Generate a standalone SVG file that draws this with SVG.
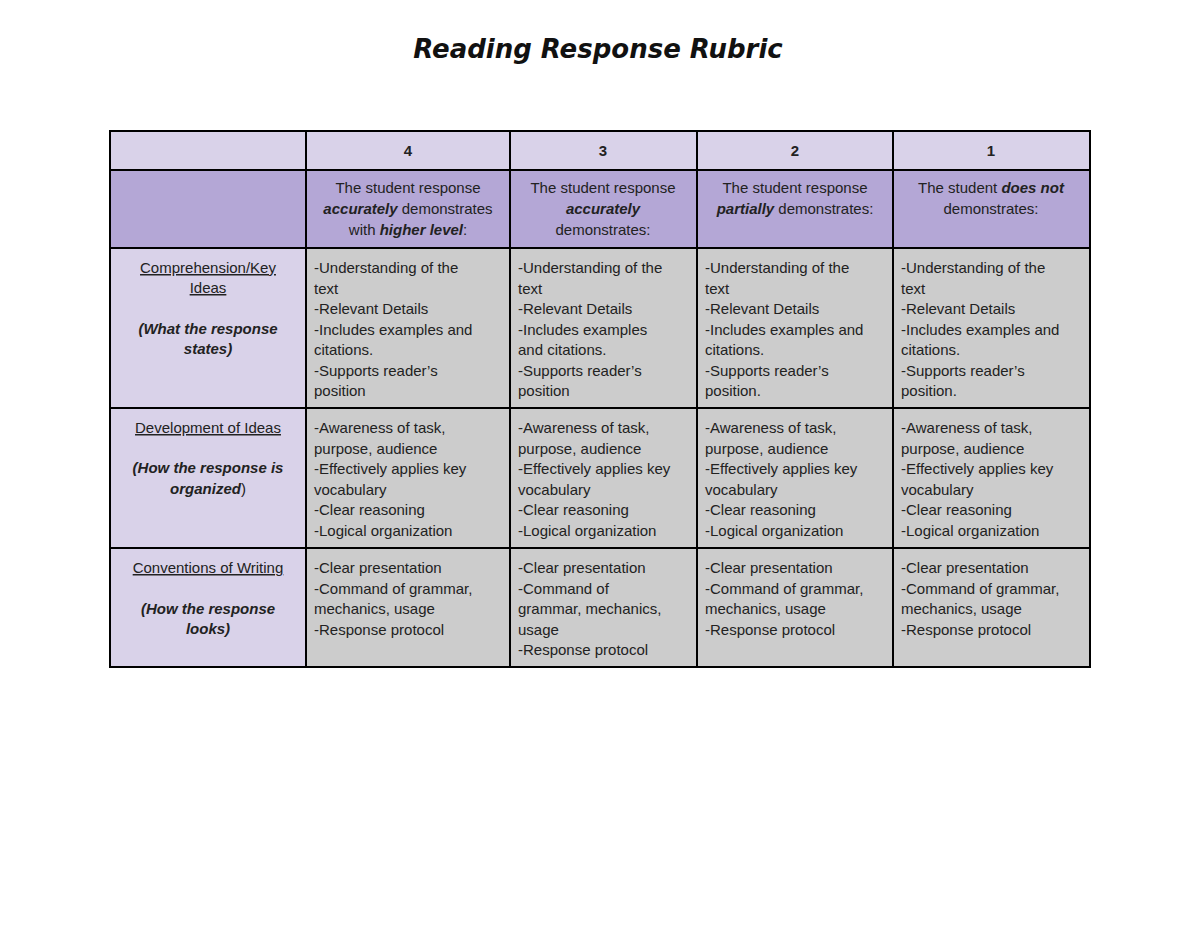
<svg xmlns="http://www.w3.org/2000/svg" width="1200" height="927" viewBox="0 0 1200 927">
<style>
text{font-family:"Liberation Sans",Arial,sans-serif;font-size:15px;fill:#222}
.c{text-anchor:middle}
.b{font-weight:bold}
.bi{font-weight:bold;font-style:italic}
.u{text-decoration:underline}
.g{fill:#cccccc;stroke:#000;stroke-width:2}
.l{fill:#d9d2e9;stroke:#000;stroke-width:2}
.d{fill:#b4a7d6;stroke:#000;stroke-width:2}
</style>
<rect width="1200" height="927" fill="#fff"/>
<text x="598" y="58" class="c" style="font-family:'DejaVu Sans',sans-serif;font-size:26px;font-style:italic;font-weight:bold;fill:#111">Reading Response Rubric</text>
<g id="table">
<rect class="l" x="110" y="131" width="196" height="39"/><rect class="l" x="306" y="131" width="204" height="39"/><rect class="l" x="510" y="131" width="187" height="39"/><rect class="l" x="697" y="131" width="196" height="39"/><rect class="l" x="893" y="131" width="197" height="39"/>
<rect class="d" x="110" y="170" width="196" height="78"/><rect class="d" x="306" y="170" width="204" height="78"/><rect class="d" x="510" y="170" width="187" height="78"/><rect class="d" x="697" y="170" width="196" height="78"/><rect class="d" x="893" y="170" width="197" height="78"/>
<rect class="l" x="110" y="248" width="196" height="160"/><rect class="g" x="306" y="248" width="204" height="160"/><rect class="g" x="510" y="248" width="187" height="160"/><rect class="g" x="697" y="248" width="196" height="160"/><rect class="g" x="893" y="248" width="197" height="160"/>
<rect class="l" x="110" y="408" width="196" height="140"/><rect class="g" x="306" y="408" width="204" height="140"/><rect class="g" x="510" y="408" width="187" height="140"/><rect class="g" x="697" y="408" width="196" height="140"/><rect class="g" x="893" y="408" width="197" height="140"/>
<rect class="l" x="110" y="548" width="196" height="119"/><rect class="g" x="306" y="548" width="204" height="119"/><rect class="g" x="510" y="548" width="187" height="119"/><rect class="g" x="697" y="548" width="196" height="119"/><rect class="g" x="893" y="548" width="197" height="119"/>
</g>
<g id="header">
<text class="c b" x="408" y="156">4</text><text class="c b" x="603" y="156">3</text><text class="c b" x="795" y="156">2</text><text class="c b" x="991" y="156">1</text>
<text class="c" x="408" y="193">The student response</text>
<text class="c" x="408" y="214"><tspan class="bi">accurately</tspan> demonstrates</text>
<text class="c" x="408" y="235">with <tspan class="bi">higher level</tspan>:</text>
<text class="c" x="603" y="193">The student response</text>
<text class="c bi" x="603" y="214">accurately</text>
<text class="c" x="603" y="235">demonstrates:</text>
<text class="c" x="795" y="193">The student response</text>
<text class="c" x="795" y="214"><tspan class="bi">partially</tspan> demonstrates:</text>
<text class="c" x="991" y="193">The student <tspan class="bi">does not</tspan></text>
<text class="c" x="991" y="214">demonstrates:</text>
</g>
<g id="rowlabels">
<text class="c u" x="208" y="273">Comprehension/Key</text>
<text class="c u" x="208" y="293">Ideas</text>
<text class="c bi" x="208" y="334">(What the response</text>
<text class="c bi" x="208" y="354">states)</text>
<text class="c u" x="208" y="433">Development of  Ideas</text>
<text class="c bi" x="208" y="473">(How the response is</text>
<text class="c" x="208" y="494"><tspan class="bi">organized</tspan>)</text>
<text class="c u" x="208" y="573">Conventions of  Writing</text>
<text class="c bi" x="208" y="614">(How the response</text>
<text class="c bi" x="208" y="634">looks)</text>
</g>
<g id="row1">
<text x="314" y="273">-Understanding of the<tspan x="314" dy="20.5">text</tspan><tspan x="314" dy="20.5">-Relevant Details</tspan><tspan x="314" dy="20.5">-Includes examples and</tspan><tspan x="314" dy="20.5">citations.</tspan><tspan x="314" dy="20.5">-Supports reader’s</tspan><tspan x="314" dy="20.5">position</tspan></text>
<text x="518" y="273">-Understanding of the<tspan x="518" dy="20.5">text</tspan><tspan x="518" dy="20.5">-Relevant Details</tspan><tspan x="518" dy="20.5">-Includes examples</tspan><tspan x="518" dy="20.5">and citations.</tspan><tspan x="518" dy="20.5">-Supports reader’s</tspan><tspan x="518" dy="20.5">position</tspan></text>
<text x="705" y="273">-Understanding of the<tspan x="705" dy="20.5">text</tspan><tspan x="705" dy="20.5">-Relevant Details</tspan><tspan x="705" dy="20.5">-Includes examples and</tspan><tspan x="705" dy="20.5">citations.</tspan><tspan x="705" dy="20.5">-Supports reader’s</tspan><tspan x="705" dy="20.5">position.</tspan></text>
<text x="901" y="273">-Understanding of the<tspan x="901" dy="20.5">text</tspan><tspan x="901" dy="20.5">-Relevant Details</tspan><tspan x="901" dy="20.5">-Includes examples and</tspan><tspan x="901" dy="20.5">citations.</tspan><tspan x="901" dy="20.5">-Supports reader’s</tspan><tspan x="901" dy="20.5">position.</tspan></text>
</g>
<g id="row2">
<text x="314" y="433">-Awareness of task,<tspan x="314" dy="20.5">purpose, audience</tspan><tspan x="314" dy="20.5">-Effectively applies key</tspan><tspan x="314" dy="20.5">vocabulary</tspan><tspan x="314" dy="20.5">-Clear reasoning</tspan><tspan x="314" dy="20.5">-Logical organization</tspan></text>
<text x="518" y="433">-Awareness of task,<tspan x="518" dy="20.5">purpose, audience</tspan><tspan x="518" dy="20.5">-Effectively applies key</tspan><tspan x="518" dy="20.5">vocabulary</tspan><tspan x="518" dy="20.5">-Clear reasoning</tspan><tspan x="518" dy="20.5">-Logical organization</tspan></text>
<text x="705" y="433">-Awareness of task,<tspan x="705" dy="20.5">purpose, audience</tspan><tspan x="705" dy="20.5">-Effectively applies key</tspan><tspan x="705" dy="20.5">vocabulary</tspan><tspan x="705" dy="20.5">-Clear reasoning</tspan><tspan x="705" dy="20.5">-Logical organization</tspan></text>
<text x="901" y="433">-Awareness of task,<tspan x="901" dy="20.5">purpose, audience</tspan><tspan x="901" dy="20.5">-Effectively applies key</tspan><tspan x="901" dy="20.5">vocabulary</tspan><tspan x="901" dy="20.5">-Clear reasoning</tspan><tspan x="901" dy="20.5">-Logical organization</tspan></text>
</g>
<g id="row3">
<text x="314" y="573">-Clear presentation<tspan x="314" dy="20.5">-Command of grammar,</tspan><tspan x="314" dy="20.5">mechanics, usage</tspan><tspan x="314" dy="20.5">-Response protocol</tspan></text>
<text x="518" y="573">-Clear presentation<tspan x="518" dy="20.5">-Command of</tspan><tspan x="518" dy="20.5">grammar, mechanics,</tspan><tspan x="518" dy="20.5">usage</tspan><tspan x="518" dy="20.5">-Response protocol</tspan></text>
<text x="705" y="573">-Clear presentation<tspan x="705" dy="20.5">-Command of grammar,</tspan><tspan x="705" dy="20.5">mechanics, usage</tspan><tspan x="705" dy="20.5">-Response protocol</tspan></text>
<text x="901" y="573">-Clear presentation<tspan x="901" dy="20.5">-Command of grammar,</tspan><tspan x="901" dy="20.5">mechanics, usage</tspan><tspan x="901" dy="20.5">-Response protocol</tspan></text>
</g>
</svg>
